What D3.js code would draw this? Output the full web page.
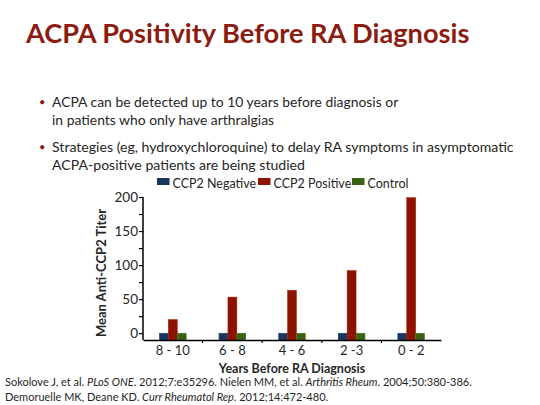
<!DOCTYPE html>
<html>
<head>
<meta charset="utf-8">
<script src="https://cdn.jsdelivr.net/npm/d3@7"></script>
<style>
  body { margin: 0; background: #fff; }
  text { font-family: Lato, "Open Sans", sans-serif; }
</style>
</head>
<body>
<svg id="slide" width="540" height="405"></svg>
<script>
const categories = ['8 - 10', '6 - 8', '4 - 6', '2 -3', '0 - 2'];
const seriesNames = ['CCP2 Negative', 'CCP2 Positive', 'Control'];
const ccp2Negative = [0, 0, 0, 0, 0];
const ccp2Positive = [20, 53, 63, 92, 199];
const control = [0, 0, 0, 0, 0];
const yTicks = [0, 50, 100, 150, 200];
const colors = ['#17375e', '#8b1300', '#3b6115'];

const svg = d3.select('#slide');

// Title + bullets
svg.append('text')
  .attr('x', 26).attr('y', 43)
  .attr('fill', '#8b1c0f')
  .attr('font-size', 27.2).attr('font-weight', 700)
  .text('ACPA Positivity Before RA Diagnosis');

const bullets = [
  { y: 107, size: 13.9, lines: ['ACPA can be detected up to 10 years before diagnosis or', 'in patients who only have arthralgias'] },
  { y: 152, size: 14.1, lines: ['Strategies (eg, hydroxychloroquine) to delay RA symptoms in asymptomatic', 'ACPA-positive patients are being studied'] }
];
bullets.forEach(b => {
  svg.append('text')
    .attr('x', 39).attr('y', b.y - 1)
    .attr('fill', '#8b1c0f').attr('font-size', 11)
    .text('\u2022');
  b.lines.forEach((l, i) => {
    svg.append('text')
      .attr('x', 52).attr('y', b.y + i * 17.5)
      .attr('fill', '#262626').attr('font-size', b.size)
      .text(l);
  });
});

// Chart
const margin = { left: 143, right: 441, top: 197, bottom: 340 };
const x = d3.scaleBand()
  .domain(categories)
  .range([margin.left, margin.right])
  .paddingInner(0.55)
  .paddingOuter(0.275);
const xs = d3.scaleBand()
  .domain(seriesNames)
  .range([0, x.bandwidth()]);
const y = d3.scaleLinear()
  .domain([-10, 200])
  .range([margin.bottom, margin.top]);

const series = [ccp2Negative, ccp2Positive, control];
const g = svg.append('g');
series.forEach((vals, si) => {
  g.selectAll(null).data(vals).enter().append('rect')
    .attr('x', (d, i) => x(categories[i]) + xs(seriesNames[si]))
    .attr('width', xs.bandwidth())
    .attr('y', d => y(d))
    .attr('height', d => y(-10) - y(d))
    .attr('fill', colors[si])
    .attr('stroke', d3.color(colors[si]).brighter(0.8))
    .attr('stroke-width', 0.5);
});

// y axis
const yAxis = svg.append('g')
  .attr('transform', `translate(${margin.left},0)`)
  .call(d3.axisLeft(y).tickValues(d3.range(0, 201, 25)).tickSize(4)
    .tickFormat(d => yTicks.includes(d) ? d : ''));
yAxis.select('.domain').attr('d', `M0,${y(200)}V${y(-10)}`).attr('stroke-width', 1.5);
yAxis.selectAll('.tick line').attr('stroke-width', 1.2);
yAxis.selectAll('.tick text')
  .attr('font-family', 'Lato, sans-serif').attr('font-size', 13.5)
  .attr('fill', '#262626').attr('x', -5);

// x axis
const xAxis = svg.append('g')
  .attr('transform', `translate(0,${margin.bottom})`)
  .call(d3.axisBottom(x).tickSize(0).tickPadding(6));
xAxis.select('.domain').attr('stroke-width', 1.5);
xAxis.selectAll('.tick text')
  .attr('font-family', 'Lato, sans-serif').attr('font-size', 13)
  .attr('fill', '#262626');
const step = x.step();
xAxis.selectAll('.sep').data(categories.slice(1)).enter().append('line')
  .attr('x1', d => x(d) - (step - x.bandwidth()) / 2)
  .attr('x2', d => x(d) - (step - x.bandwidth()) / 2)
  .attr('y1', 0).attr('y2', 3)
  .attr('stroke', '#000').attr('stroke-width', 1.2);

// axis titles
svg.append('text')
  .attr('transform', `translate(106,273) rotate(-90)`)
  .attr('text-anchor', 'middle')
  .attr('font-size', 13).attr('font-weight', 700).attr('fill', '#262626')
  .text('Mean Anti-CCP2 Titer');
svg.append('text')
  .attr('x', (margin.left + margin.right) / 2).attr('y', 373)
  .attr('text-anchor', 'middle')
  .attr('font-size', 12.5).attr('font-weight', 700).attr('fill', '#262626')
  .text('Years Before RA Diagnosis');

// legend
const legend = svg.append('g');
const legendX = [157, 258, 352];
seriesNames.forEach((s, i) => {
  legend.append('rect')
    .attr('x', legendX[i]).attr('y', 178).attr('width', 12.5).attr('height', 7)
    .attr('fill', colors[i]);
  legend.append('text')
    .attr('x', legendX[i] + 15.5).attr('y', 188)
    .attr('font-size', 12.5).attr('fill', '#262626')
    .text(s);
});

// references
const refs = svg.append('g').attr('font-size', 11).attr('fill', '#262626');
const r1 = refs.append('text').attr('x', 5).attr('y', 386);
r1.append('tspan').text('Sokolove J, et al. ');
r1.append('tspan').attr('font-style', 'italic').text('PLoS ONE');
r1.append('tspan').text('. 2012;7:e35296.  Nielen MM, et al. ');
r1.append('tspan').attr('font-style', 'italic').text('Arthritis Rheum');
r1.append('tspan').text('.  2004;50:380-386.');
const r2 = refs.append('text').attr('x', 5).attr('y', 401);
r2.append('tspan').text('Demoruelle MK, Deane KD. ');
r2.append('tspan').attr('font-style', 'italic').text('Curr Rheumatol Rep');
r2.append('tspan').text('. 2012;14:472-480.');
</script>
</body>
</html>
